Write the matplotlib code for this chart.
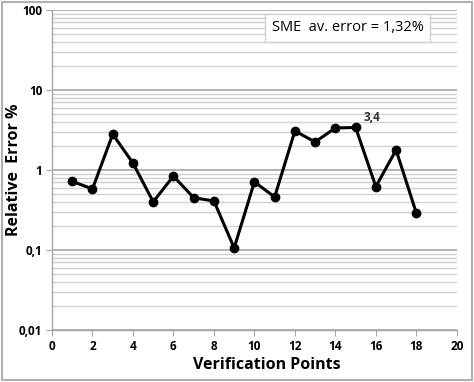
import numpy as np
import matplotlib.pyplot as plt
from matplotlib.ticker import FixedLocator, LogLocator, NullFormatter
from matplotlib.patches import Rectangle

points = np.arange(1, 19)
rel_error = [0.72, 0.58, 2.8, 1.22, 0.40, 0.84, 0.45, 0.41, 0.106,
             0.71, 0.46, 3.07, 2.24, 3.35, 3.4, 0.62, 1.78, 0.29]
y_ticks = [0.01, 0.1, 1, 10, 100]
y_labels = ['0,01', '0,1', '1', '10', '100']
x_ticks = np.arange(0, 21, 2)

plt.rcParams['font.family'] = ['Open Sans', 'DejaVu Sans']

fig = plt.figure(figsize=(4.74, 3.82), dpi=100)
fig.patches.append(Rectangle((0.004, 0.005), 0.992, 0.99, transform=fig.transFigure,
                             fill=False, edgecolor='#b0b0b0', lw=1.5))
ax = fig.add_axes([0.1097, 0.136, 0.854, 0.838])

ax.plot(points, rel_error, color='black', lw=2.2, marker='o', ms=6, zorder=3)
ax.annotate('3,4', (points[14], rel_error[14]), xytext=(6, 5), textcoords='offset points',
            fontsize=8.5, fontweight='bold', color='#333333')

ax.set_yscale('log')
ax.set_ylim(0.01, 100)
ax.set_xlim(0, 20)
ax.yaxis.set_major_locator(FixedLocator(y_ticks))
ax.set_yticklabels(y_labels)
ax.yaxis.set_minor_locator(LogLocator(base=10, subs=np.arange(2, 10)))
ax.yaxis.set_minor_formatter(NullFormatter())
ax.set_xticks(x_ticks)

ax.grid(which='major', axis='y', color='#a6a6a6', lw=1.2)
ax.grid(which='minor', axis='y', color='#d0d0d0', lw=1.0)
ax.set_axisbelow(True)

for s in ['top', 'right']:
    ax.spines[s].set_visible(False)
for s in ['left', 'bottom']:
    ax.spines[s].set_color('#a6a6a6')
    ax.spines[s].set_linewidth(1.0)

ax.tick_params(axis='both', which='major', length=4, color='#a6a6a6',
               labelsize=8.5, pad=3)
ax.tick_params(axis='y', which='minor', length=0)
for lab in ax.get_xticklabels() + ax.get_yticklabels():
    lab.set_fontweight('bold')

ax.set_xlabel('Verification Points', fontsize=11.5, fontweight='bold')
ax.set_ylabel('Relative  Error %', fontsize=11.5, fontweight='bold')
ax.xaxis.set_label_coords(0.53, -0.085)
ax.yaxis.set_label_coords(-0.075, 0.5)

ax.text(0.731, 0.944, 'SME  av. error = 1,32%', transform=ax.transAxes, fontsize=10.5,
        ha='center', va='center',
        bbox=dict(boxstyle='square,pad=0.45', facecolor='white', edgecolor='#d0d0d0'))

fig.savefig('out.png', dpi=100)
